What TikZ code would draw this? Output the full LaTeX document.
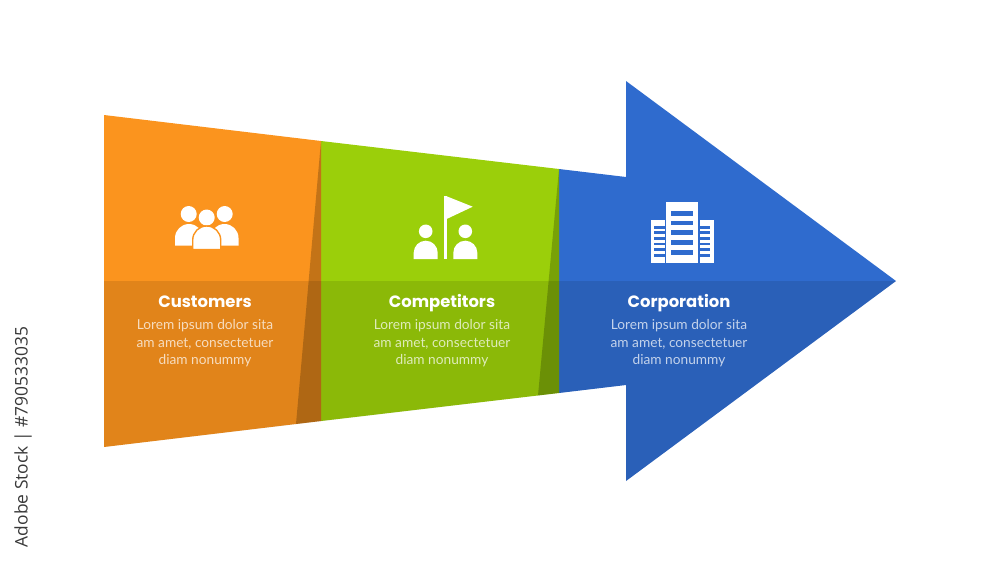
\documentclass[tikz,border=0pt]{standalone}
\usepackage{fontspec}
\setmainfont{Lato}
\newfontfamily\titlefont{Poppins}
\newfontfamily\sidefont{Open Sans}
\definecolor{custorange}{HTML}{FB941E}
\definecolor{compgreen}{HTML}{9BCF0A}
\definecolor{corpblue}{HTML}{2F6BCE}
\tikzset{
  titletext/.style={text=white,font=\titlefont\bfseries\fontsize{16.4}{18}\selectfont,anchor=base},
  bodytext/.style={text=white,text opacity=.72,align=center,anchor=north,
    font=\fontsize{13.7}{17.4}\selectfont},
  foldshade/.style={fill=black,fill opacity=.22},
  iconfill/.style={fill=white},
}
\newcommand{\personbody}[4]{% centre x, half width, top, bottom
  (#1-#2,#4) -- (#1-#2,#3+#2) arc[start angle=180,end angle=360,radius=#2pt] -- (#1+#2,#4) -- cycle}

\begin{document}
\begin{tikzpicture}[x=1pt,y=1pt,yscale=-1]
      \useasboundingbox (0,0) rectangle (1000,563);
      % the three parts of the arrow
      \fill[corpblue] (559,169) -- (626,177) -- (626,81) -- (896,281) -- (626,481) -- (626,385) -- (559,393) -- cycle;
      \fill[compgreen] (321,141) -- (559,169) -- (559,393) -- (321,421) -- cycle;
      \fill[custorange] (104,115) -- (321,141) -- (321,421) -- (104,447) -- cycle;

      % folds between the parts
      \fill[foldshade] (321,141) -- (321,421) -- (296,424) -- cycle;
      \fill[foldshade] (559,169) -- (559,393) -- (538,395.5) -- cycle;

      % darker lower half
      \begin{scope}
        \clip (104,115) -- (626,177) -- (626,81) -- (896,281) -- (626,481) -- (626,385) -- (104,447) -- cycle;
        \fill[black,fill opacity=.1] (100,281) rectangle (900,490);
      \end{scope}

      % customers icon
      \foreach \x/\y in {188.7/214, 224.7/214, 206.7/217.5}
      \fill[iconfill] (\x,\y) circle[radius=8pt];
      \fill[iconfill] \personbody{189}{14}{224}{245.5};
      \fill[iconfill] \personbody{224.5}{14}{224}{245.5};
      \filldraw[iconfill,draw=custorange,line width=1.4pt] \personbody{206.7}{14}{226}{249.5};

      % competitors icon
      \fill[iconfill] (444.3,196) rectangle (446.7,259);
      \fill[iconfill] (446,196) -- (472.7,206.7) -- (446,219.3) -- cycle;
      \foreach \x in {425.7, 465.3}{
        \fill[iconfill] (\x,231.3) circle[radius=6.8pt];
        \fill[iconfill] \personbody{\x}{12}{240.7}{259};
      }

      % corporation icon
      \fill[iconfill] (666.3,201.7) rectangle (698.3,262.7);
      \fill[iconfill] (650.7,220.3) rectangle (665,262.7);
      \fill[iconfill] (700.3,220.3) rectangle (713.7,262.7);
      \foreach \y in {210.7, 220.5, 230.3, 240, 249.8}
      \fill[corpblue] (671.3,\y) rectangle (693.3,\y+4.8);
      \foreach \y in {225.7, 231.3, 236.9, 242.5, 248.1, 253.7}{
        \fill[corpblue] (654,\y) rectangle (665,\y+2.8);
        \fill[corpblue] (700.3,\y) rectangle (710.3,\y+2.8);
      }

      % labels
      \node[titletext] (custtitle) at (205,307.5) {Customers};
      \node[titletext] (comptitle) at (442,307.5) {Competitors};
      \node[titletext] (corptitle) at (679,307.5) {Corporation};
      \foreach \x/\name in {205/custtext, 442/comptext, 679/corptext}
      \node[bodytext] (\name) at (\x,316) {Lorem ipsum dolor sita\\am amet, consectetuer\\diam nonummy};

      \node[rotate=90,text=black!78,font=\sidefont\fontsize{17.4}{20}\selectfont] (stockid) at (23,437) {Adobe Stock | \#790533035};
    \end{tikzpicture}
\end{document}
